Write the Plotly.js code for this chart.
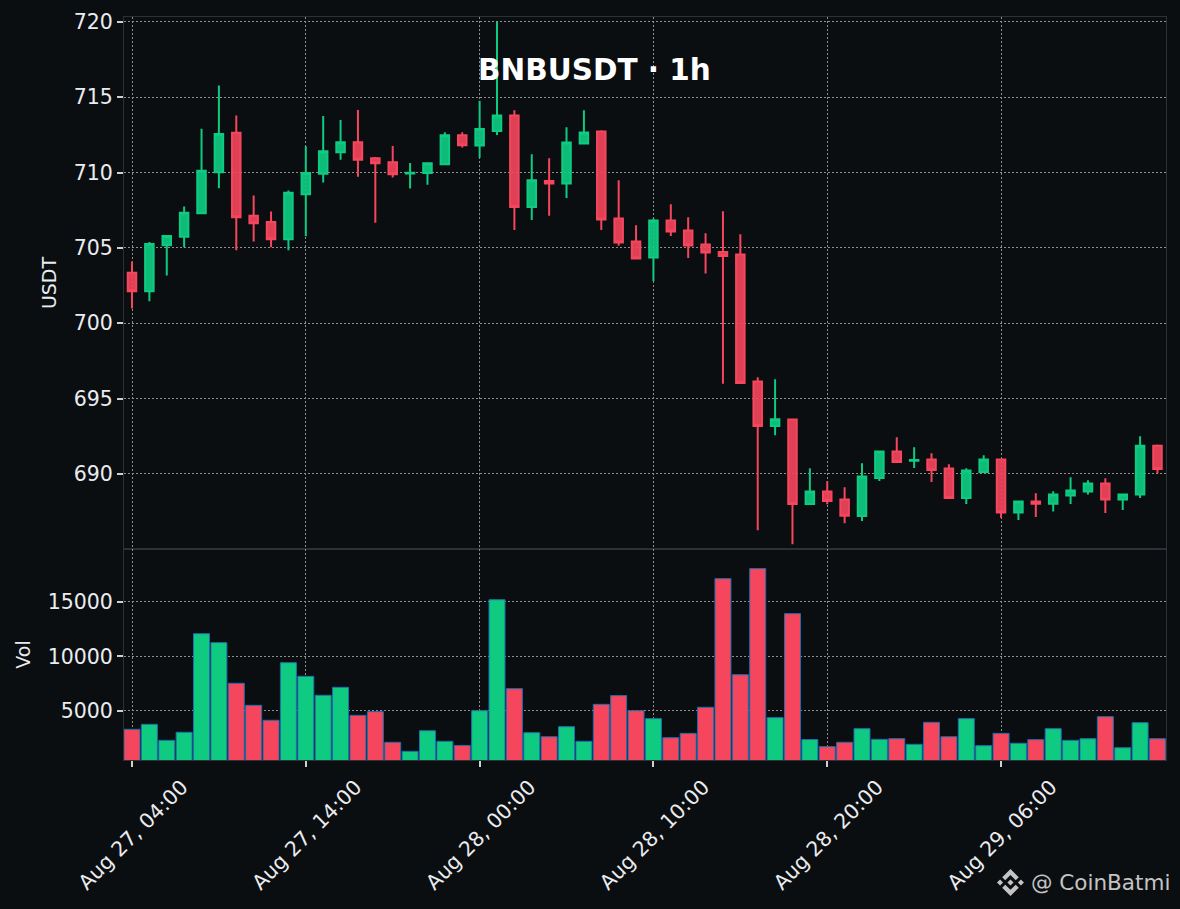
<!DOCTYPE html>
<html>
<head>
<meta charset="utf-8">
<script src="https://cdn.plot.ly/plotly-3.0.1.min.js"></script>
<style>html,body{margin:0;padding:0;background:#0b0e11;}#chart{width:1180px;height:909px;}</style>
</head>
<body>
<div id="chart"></div>
<script>
const times = [
  '2025-08-27 04:00','2025-08-27 05:00','2025-08-27 06:00','2025-08-27 07:00','2025-08-27 08:00',
  '2025-08-27 09:00','2025-08-27 10:00','2025-08-27 11:00','2025-08-27 12:00','2025-08-27 13:00',
  '2025-08-27 14:00','2025-08-27 15:00','2025-08-27 16:00','2025-08-27 17:00','2025-08-27 18:00',
  '2025-08-27 19:00','2025-08-27 20:00','2025-08-27 21:00','2025-08-27 22:00','2025-08-27 23:00',
  '2025-08-28 00:00','2025-08-28 01:00','2025-08-28 02:00','2025-08-28 03:00','2025-08-28 04:00',
  '2025-08-28 05:00','2025-08-28 06:00','2025-08-28 07:00','2025-08-28 08:00','2025-08-28 09:00',
  '2025-08-28 10:00','2025-08-28 11:00','2025-08-28 12:00','2025-08-28 13:00','2025-08-28 14:00',
  '2025-08-28 15:00','2025-08-28 16:00','2025-08-28 17:00','2025-08-28 18:00','2025-08-28 19:00',
  '2025-08-28 20:00','2025-08-28 21:00','2025-08-28 22:00','2025-08-28 23:00','2025-08-29 00:00',
  '2025-08-29 01:00','2025-08-29 02:00','2025-08-29 03:00','2025-08-29 04:00','2025-08-29 05:00',
  '2025-08-29 06:00','2025-08-29 07:00','2025-08-29 08:00','2025-08-29 09:00','2025-08-29 10:00',
  '2025-08-29 11:00','2025-08-29 12:00','2025-08-29 13:00','2025-08-29 14:00','2025-08-29 15:00'
];
const openP = [
  703.35,702.13,705.18,705.74,707.30,710.02,712.64,707.13,706.73,705.58,
  708.56,709.93,711.35,712.02,710.96,710.69,709.95,709.98,710.56,712.48,
  711.80,712.77,713.79,707.72,709.45,709.28,711.93,712.73,706.95,705.43,
  704.37,706.82,706.16,705.23,704.73,704.56,696.13,693.19,693.61,688.01,
  688.84,688.30,687.21,689.73,691.49,690.87,690.96,690.36,688.41,690.13,
  690.96,687.44,688.17,688.03,688.57,688.83,689.36,688.30,688.63,691.88
];
const highP = [
  704.10,705.40,705.85,707.75,712.92,715.78,713.79,708.48,707.42,708.81,
  711.75,713.76,713.50,714.16,711.04,711.77,710.64,710.62,712.68,712.68,
  714.77,720.00,714.14,711.22,710.96,713.01,714.14,712.81,709.50,706.51,
  706.95,707.90,707.04,705.98,707.44,705.91,696.42,696.29,693.61,690.38,
  689.52,689.12,690.71,691.49,692.44,691.77,691.37,690.64,690.38,691.24,
  690.96,688.17,688.72,688.85,689.78,689.58,689.71,688.70,692.50,691.95
];
const lowP = [
  700.98,701.46,703.17,705.05,707.24,708.96,704.85,705.43,705.05,704.85,
  705.78,709.34,710.86,709.73,706.68,709.67,708.94,709.20,710.56,711.66,
  710.98,712.50,706.20,706.86,707.13,708.32,711.93,706.20,705.14,704.30,
  702.81,705.80,704.34,703.30,695.98,695.98,686.27,692.57,685.34,688.01,
  687.99,686.73,686.88,689.54,690.80,690.40,689.47,688.41,688.01,690.13,
  687.08,686.95,687.15,687.50,688.01,688.63,687.41,687.61,688.41,690.03
];
const closeP = [
  702.13,705.27,705.80,707.33,710.12,712.57,707.04,706.64,705.58,708.66,
  709.98,711.42,712.02,710.86,710.62,709.90,710.00,710.62,712.48,711.82,
  712.90,713.79,707.72,709.50,709.28,712.00,712.66,706.89,705.36,704.30,
  706.82,706.09,705.16,704.70,704.47,696.04,693.19,693.63,688.01,688.84,
  688.21,687.22,689.83,691.49,690.80,690.92,690.27,688.41,690.23,690.96,
  687.44,688.17,688.03,688.63,688.90,689.36,688.30,688.63,691.88,690.33
];
const volume = [
  3320,3780,2310,3050,12090,11270,7540,5520,4150,9430,
  8180,6440,7170,4600,4940,2130,1300,3190,2220,1840,
  5030,15210,7050,3010,2640,3560,2220,5610,6410,5030,
  4300,2550,2950,5340,17140,8330,18060,4390,13930,2380,
  1730,2130,3380,2400,2460,1940,3960,2640,4300,1820,
  2950,2040,2370,3380,2310,2460,4480,1630,3930,2460
];
const titleText = 'BNBUSDT · 1h';
const priceAxisTitle = 'USDT';
const volAxisTitle = 'Vol';
const watermarkText = '@ CoinBatmi';

const UP = '#0ecb81', DOWN = '#f6465d';
const volColors = closeP.map((c, i) => c >= openP[i] ? UP : DOWN);

const HOUR = 3600000;
const t0 = new Date(times[0].replace(' ', 'T') + ':00Z').getTime();
const tN = new Date(times[times.length - 1].replace(' ', 'T') + ':00Z').getTime();
const fmt = ms => new Date(ms).toISOString().replace('T', ' ').slice(0, 19);
const xRange = [fmt(t0 - 0.46 * HOUR), fmt(tN + 0.49 * HOUR)];

const GRID = '#8f8f8f';
const LINE = '#2c3136';
const FAMILY = 'DejaVu Sans';
const TICKFONT = {family: FAMILY, size: 20.5, color: '#eaecef'};

const candle = {
  type: 'candlestick', x: times, open: openP, high: highP, low: lowP, close: closeP,
  xaxis: 'x', yaxis: 'y',
  increasing: {line: {color: UP, width: 2}, fillcolor: 'rgba(14,203,129,0.92)'},
  decreasing: {line: {color: DOWN, width: 2}, fillcolor: 'rgba(246,70,93,0.9)'},
  whiskerwidth: 0, hoverinfo: 'skip'
};
const bars = {
  type: 'bar', x: times, y: volume, xaxis: 'x2', yaxis: 'y2',
  width: 0.92 * HOUR,
  marker: {color: volColors, line: {color: '#1f6fae', width: 1}},
  hoverinfo: 'skip'
};

const xCommon = {
  type: 'date', range: xRange, tick0: times[0], dtick: 10 * HOUR,
  showgrid: true, gridcolor: GRID, gridwidth: 1, griddash: '2px,2px',
  showline: true, linecolor: LINE, linewidth: 1, mirror: true, zeroline: false
};
const yCommon = {
  ticks: 'outside', ticklen: 6, tickwidth: 2, tickcolor: '#d0d0d0', tickfont: TICKFONT,
  showgrid: true, gridcolor: GRID, gridwidth: 1, griddash: '2px,2px',
  showline: true, linecolor: LINE, linewidth: 1, mirror: true, zeroline: false
};

const layout = {
  width: 1180, height: 909,
  paper_bgcolor: '#0b0e11', plot_bgcolor: '#0b0e11',
  margin: {l: 124, r: 14, t: 17, b: 149},
  showlegend: false,
  font: {family: FAMILY, color: '#eaecef'},
  title: {text: '<b>' + titleText + '</b>', x: 0.5038, xanchor: 'center', y: 0.923, yanchor: 'middle',
          font: {family: FAMILY, size: 29.5, color: '#ffffff'}},
  xaxis: Object.assign({}, xCommon, {domain: [0, 1], anchor: 'y', showticklabels: false, ticks: '',
          rangeslider: {visible: false}}),
  xaxis2: Object.assign({}, xCommon, {domain: [0, 1], anchor: 'y2', tickformat: '%b %d, %H:%M',
          tickangle: -45, ticks: 'outside', ticklen: 6, tickwidth: 2, tickcolor: '#d0d0d0',
          tickfont: TICKFONT, ticklabelshift: 50}),
  yaxis: Object.assign({}, yCommon, {domain: [0.284, 1], range: [685.02, 720.33], tick0: 690, dtick: 5,
          title: {text: priceAxisTitle, standoff: 12, font: {family: FAMILY, size: 19, color: '#eaecef'}}}),
  yaxis2: Object.assign({}, yCommon, {domain: [0, 0.284], range: [505, 19860], tick0: 0, dtick: 5000, tickformat: 'd',
          title: {text: volAxisTitle, standoff: 12, font: {family: FAMILY, size: 19, color: '#eaecef'}}}),
  annotations: [{
    text: watermarkText, xref: 'paper', yref: 'paper', x: 1.0058, y: -0.1655,
    xanchor: 'right', yanchor: 'middle', showarrow: false,
    font: {family: FAMILY, size: 21.5, color: '#c4c4c4'}
  }],
  images: [{
    source: 'data:image/svg+xml;charset=utf-8,' + encodeURIComponent(
      '<svg xmlns="http://www.w3.org/2000/svg" viewBox="0 0 126.61 126.61"><g fill="#c4c4c4">' +
      '<path d="M38.73,53.2,63.3,28.64,87.89,53.22l14.3-14.3L63.3,0,24.43,38.9Z"/>' +
      '<path d="M0,63.31l14.3-14.3,14.3,14.3-14.3,14.3Z"/>' +
      '<path d="M38.73,73.41,63.3,98,87.89,73.4l14.3,14.29L63.3,126.61,24.42,87.73Z"/>' +
      '<path d="M98,63.31l14.3-14.3,14.3,14.3-14.3,14.3Z"/>' +
      '<path d="M77.83,63.3,63.3,48.76,48.76,63.3,63.3,77.84Z"/>' +
      '</g></svg>'),
    xref: 'paper', yref: 'paper', x: 0.8378, y: -0.1467, sizex: 0.0259, sizey: 0.0363,
    xanchor: 'left', yanchor: 'top', sizing: 'contain', layer: 'above'
  }]
};

Plotly.newPlot('chart', [candle, bars], layout, {displayModeBar: false, staticPlot: true});
</script>
</body>
</html>
